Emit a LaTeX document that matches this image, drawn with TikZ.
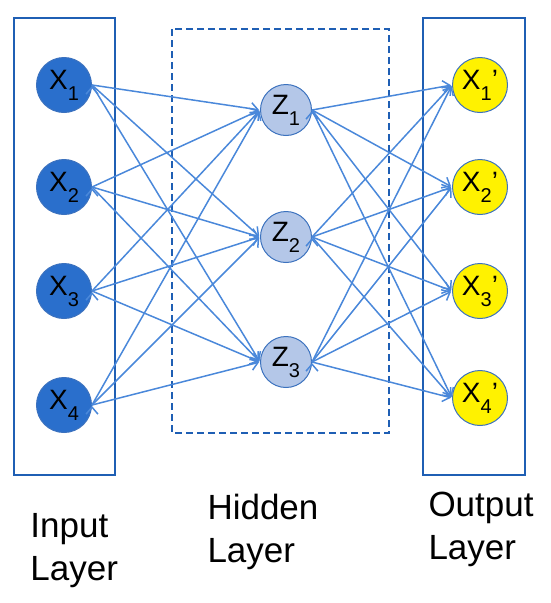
\documentclass[tikz,border=0pt]{standalone}
\usepackage{xcolor}
\usepackage{tikz}
\usepackage{fontspec}
\setmainfont{Liberation Sans}
\usetikzlibrary{arrows.meta}

\definecolor{boxblue}{RGB}{31,95,180}
\definecolor{inblue}{RGB}{42,111,204}
\definecolor{hidblue}{RGB}{180,199,232}
\definecolor{rimblue}{RGB}{60,114,190}
\definecolor{edgeblue}{RGB}{74,136,218}

\newcommand{\lowidx}[1]{\raisebox{-11pt}{\fontsize{20}{20}\selectfont #1}}

\begin{document}
\begin{tikzpicture}[x=1pt,y=-1pt,
      font=\fontsize{28}{28}\selectfont]
      \tikzstyle{every node}=[circle,draw=rimblue,line width=1pt,inner sep=0pt]
      \tikzstyle{innode}=[fill=inblue,minimum size=55pt]
      \tikzstyle{hidnode}=[fill=hidblue,minimum size=51pt]
      \tikzstyle{outnode}=[fill=yellow,minimum size=55pt]
      \tikzstyle{layerbox}=[draw=boxblue,line width=2pt]
      \tikzstyle{lbl}=[rectangle,draw=none,align=left,anchor=north west,
        font=\fontsize{35}{43}\selectfont]
      \tikzstyle{wire}=[edgeblue,line width=1.5pt,shorten >=1pt,
        -{Straight Barb[length=7pt,width=12pt]}]
      \useasboundingbox (0,0) rectangle (550,603);

      % layer boxes
      \draw[layerbox] (14,18) rectangle (115,475);
      \draw[layerbox,dash pattern=on 7pt off 4pt] (172,29) rectangle (389,433);
      \draw[layerbox] (423,18) rectangle (525,475);

      % input layer
      \node[innode] (X1) at (64,85) {X\lowidx{1}};
      \node[innode] (X2) at (64,187) {X\lowidx{2}};
      \node[innode] (X3) at (64,291) {X\lowidx{3}};
      \node[innode] (X4) at (64,405) {X\lowidx{4}};

      % hidden layer
      \node[hidnode] (Z1) at (286,110) {Z\lowidx{1}};
      \node[hidnode] (Z2) at (286,237) {Z\lowidx{2}};
      \node[hidnode] (Z3) at (286,362) {Z\lowidx{3}};

      % output layer
      \node[outnode] (Y1) at (480,85) {X\lowidx{1}'};
      \node[outnode] (Y2) at (480,187) {X\lowidx{2}'};
      \node[outnode] (Y3) at (480,291) {X\lowidx{3}'};
      \node[outnode] (Y4) at (480,398) {X\lowidx{4}'};

      % connections
      \draw[wire] (X1.east) edge (Z1.west) edge (Z2.west) edge (Z3.west);
      \draw[wire] (X2.east) edge (Z1.west) edge (Z2.west) edge (Z3.west);
      \draw[wire] (X3.east) edge (Z1.west) edge (Z2.west) edge (Z3.west);
      \draw[wire] (X4.east) edge (Z1.west) edge (Z2.west) edge (Z3.west);
      \draw[wire] (Z1.east) edge (Y1.west) edge (Y2.west) edge (Y3.west) edge (Y4.west);
      \draw[wire] (Z2.east) edge (Y1.west) edge (Y2.west) edge (Y3.west) edge (Y4.west);
      \draw[wire] (Z3.east) edge (Y1.west) edge (Y2.west) edge (Y3.west) edge (Y4.west);

      % captions
      \node[lbl] (Lin) at (30,513) {Input\\Layer};
      \node[lbl] (Lhid) at (207,494) {Hidden\\Layer};
      \node[lbl] (Lout) at (428,492) {Output\\Layer};
\end{tikzpicture}
\end{document}
